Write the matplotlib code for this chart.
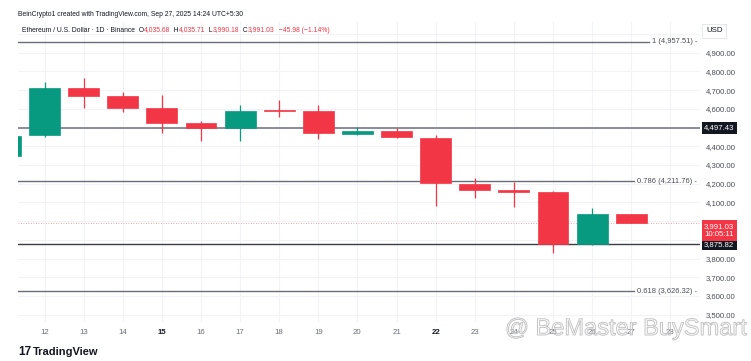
import matplotlib
matplotlib.use("Agg")
from matplotlib import pyplot as plt
from matplotlib import patheffects as pe
from matplotlib.transforms import blended_transform_factory

# daily candles, ETH/USD (Binance, 1D), Sep 11 - Sep 27
days = [11, 12, 13, 14, 15, 16, 17, 18, 19, 20, 21, 22, 23, 24, 25, 26, 27]
opens = [4348, 4462, 4713, 4669, 4604, 4526, 4499, 4593, 4588, 4467, 4481,
         4446, 4197, 4165, 4154, 3875.82, 4035.68]
highs = [4460, 4743, 4766, 4688, 4672, 4537, 4619, 4647, 4620, 4504, 4496,
         4460, 4229, 4207, 4162, 4068, 4035.71]
lows = [4340, 4451, 4606, 4581, 4471, 4430, 4428, 4558, 4439, 4460, 4442,
        4081, 4122, 4074, 3828, 3870, 3990.18]
closes = [4456, 4713, 4667, 4606, 4526, 4499, 4590, 4589, 4469, 4481, 4448,
          4202, 4165, 4154, 3875.82, 4035.68, 3991.03]
day_change = "\u221245.98 (\u22121.14%)"

# fib levels and horizontal lines
fib_ratios = ["1", "0.786", "0.618"]
fib_prices = [4957.51, 4211.76, 3626.32]
level_lines = [4497.43, 3875.82]
last_close = 3991.03
countdown = "10:05:11"

tick_days = list(range(12, 29))
price_ticks = list(range(3500, 5000, 100))

GREEN = "#089981"
RED = "#F23645"
TXT = "#131722"

plt.rcParams['font.family'] = ['Liberation Sans', 'DejaVu Sans']

W, H = 751, 361
fig = plt.figure(figsize=(W / 100, H / 100), dpi=100)
left, right, top, bottom = 18, 700, 22, 322
ax = fig.add_axes([left / W, 1 - bottom / H, (right - left) / W, (bottom - top) / H])
ax.set_xlim(11.32, 28.76)
ax.set_ylim(3461, 5064)

# grid
for d in tick_days:
    ax.axvline(d, color="#f2f3f6", lw=0.8, zorder=0)
for p in price_ticks + [5000]:
    ax.axhline(p, color="#f2f3f6", lw=0.8, zorder=0)

# candles
w = 0.79
for d, o, h, l, c in zip(days, opens, highs, lows, closes):
    col = GREEN if c >= o else RED
    ax.vlines(d, l, h, color=col, lw=0.9, zorder=3)
    lo, hi = min(o, c), max(o, c)
    ax.bar(d, max(hi - lo, 2), bottom=lo, width=w, color=col, edgecolor=col,
           lw=0.5, zorder=4)

# fib lines with labels, line stops just before its label
fig.canvas.draw()
renderer = fig.canvas.get_renderer()
ax_bb = ax.get_window_extent(renderer)
for r, p in zip(fib_ratios, fib_prices):
    t = ax.text(0.996, p, f"{r} ({p:,.2f}) -", transform=ax.get_yaxis_transform(),
                ha="right", va="center", fontsize=5.4, color="#4a4d57")
    tb = t.get_window_extent(renderer)
    xe = (tb.x0 - 3 - ax_bb.x0) / ax_bb.width
    ax.axhline(p, xmin=0, xmax=xe, color="#6a6d78", lw=1.0, zorder=2)

ax.axhline(level_lines[0], color="#808490", lw=1.3, zorder=2)
ax.axhline(level_lines[1], color="#3b3d45", lw=1.0, zorder=2)
ax.axhline(last_close, color=RED, lw=0.6, ls=(0, (1, 2)), alpha=0.6, zorder=2)

# price axis
ax.yaxis.tick_right()
ax.set_yticks(price_ticks)
ax.set_yticklabels([f"{p:,.2f}" for p in price_ticks])
ax.tick_params(axis="y", length=0, pad=4, labelsize=5.6, labelcolor="#4a4d57")
ax.set_xticks(tick_days)
ax.set_xticklabels([str(d) for d in tick_days])
ax.tick_params(axis="x", length=0, pad=5, labelsize=5.6, labelcolor="#6a6d78")
for lab in ax.get_xticklabels():
    if lab.get_text() in ("15", "22"):
        lab.set_color(TXT)
        lab.set_fontweight("bold")
for s in ax.spines.values():
    s.set_visible(False)

tr = blended_transform_factory(ax.transAxes, ax.transData)
for p in level_lines:
    ax.text(1.006, p, f"{p:,.2f}", transform=tr, ha="left", va="center",
            fontsize=5.6, color="white", zorder=10, clip_on=False,
            bbox=dict(boxstyle="square,pad=0.3", fc=TXT, ec="none"))
ax.text(1.006, last_close, f"{last_close:,.2f}\n{countdown}", transform=tr,
        ha="left", va="top", fontsize=5.6, color="white", zorder=10,
        clip_on=False, linespacing=1.3,
        bbox=dict(boxstyle="square,pad=0.3", fc=RED, ec="none"))

# USD box
fig.text(706 / W, 1 - 31 / H, "USD", fontsize=5.6, color=TXT,
         va="center", ha="left",
         bbox=dict(boxstyle="square,pad=0.5", fc="white", ec="#e0e3eb", lw=0.6))

# header
fig.text(18 / W, 1 - 15 / H,
         "BeinCrypto1 created with TradingView.com, Sep 27, 2025 14:24 UTC+5:30",
         fontsize=4.9, color=TXT, va="center")
o, h, l, c = opens[-1], highs[-1], lows[-1], closes[-1]
parts = [("Ethereum / U.S. Dollar · 1D · Binance  O", TXT),
         (f"{o:,.2f}", RED), ("  H", TXT), (f"{h:,.2f}", RED),
         ("  L", TXT), (f"{l:,.2f}", RED), ("  C", TXT),
         (f"{c:,.2f}", RED), ("  " + day_change, RED)]
x = 22
for txt, col in parts:
    t = fig.text(x / W, 1 - 30 / H, txt, fontsize=4.9, color=col, va="center")
    x += t.get_window_extent(renderer).width

# footer
fig.text(18 / W, 1 - 352 / H, "17", fontsize=8.5, fontweight="bold",
         color=TXT, va="center")
fig.text(33 / W, 1 - 352 / H, "TradingView", fontsize=8, fontweight="bold",
         color=TXT, va="center")
# hollow watermark, tick labels stay visible through it
fig.text(505 / W, 1 - 329 / H, "@ BeMaster BuySmart", fontsize=17,
         color="none", va="center", zorder=5,
         path_effects=[pe.Stroke(linewidth=0.7, foreground="#c4c4c4")])

fig.savefig("out.png", dpi=100, facecolor="white")
